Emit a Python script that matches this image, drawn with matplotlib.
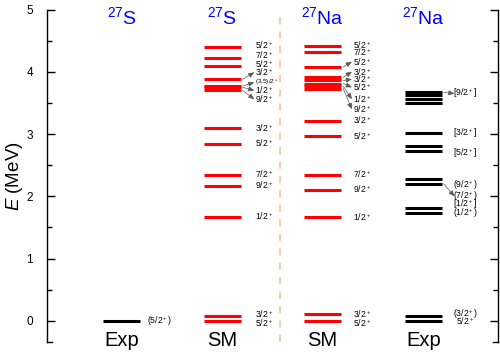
import matplotlib
matplotlib.use("Agg")
import matplotlib.pyplot as plt

plt.rcParams['font.family'] = ['Liberation Sans', 'DejaVu Sans']
plt.rcParams['mathtext.fontset'] = 'custom'
plt.rcParams['mathtext.rm'] = 'Liberation Sans'
plt.rcParams['mathtext.it'] = 'Liberation Sans:italic'
plt.rcParams['mathtext.bf'] = 'Liberation Sans:bold'

# ---------------- data ----------------
column_titles = [r'$^{27}$S', r'$^{27}$S', r'$^{27}$Na', r'$^{27}$Na']
column_names = ['Exp', 'SM', 'SM', 'Exp']

s27_exp_E = [0.0]
s27_exp_J = ['(5/2$^+$)']

s27_sm_E = [4.39, 4.22, 4.10, 3.88, 3.77, 3.75, 3.70, 3.09, 2.84, 2.35, 2.17, 1.67, 0.07, 0.0]
s27_sm_J = ['5/2$^+$', '7/2$^+$', '5/2$^+$', '3/2$^+$', '(3,5)/2$^+$', '1/2$^+$', '9/2$^+$',
            '3/2$^+$', '5/2$^+$', '7/2$^+$', '9/2$^+$', '1/2$^+$', '3/2$^+$', '5/2$^+$']

na27_sm_E = [4.42, 4.31, 4.08, 3.91, 3.86, 3.81, 3.77, 3.73, 3.21, 2.97, 2.35, 2.10, 1.66, 0.11, 0.0]
na27_sm_J = ['5/2$^+$', '7/2$^+$', '5/2$^+$', '3/2$^+$', '3/2$^+$', '5/2$^+$', '1/2$^+$', '9/2$^+$',
             '3/2$^+$', '5/2$^+$', '7/2$^+$', '9/2$^+$', '1/2$^+$', '3/2$^+$', '5/2$^+$']

na27_exp_E = [3.67, 3.62, 3.56, 3.50, 3.01, 2.80, 2.73, 2.27, 2.20, 1.81, 1.73, 0.085, 0.0]
na27_exp_J = ['[9/2$^+$]', '', '', '', '[3/2$^+$]', '', '[5/2$^+$]', '(9/2$^+$)', '(7/2$^+$)',
              '[1/2$^+$]', '(1/2$^+$)', '(3/2$^+$)', '5/2$^+$']

# ---------------- layout (label placement) ----------------
s27_exp_lab = [0.0]
s27_sm_lab = [4.42, 4.26, 4.13, 3.99, 3.83, 3.70, 3.56, 3.09, 2.85, 2.36, 2.18, 1.68, 0.11, -0.035]
s27_sm_arrow = [False, False, False, True, True, True, True, False, False, False, False, False, False, False]
na27_sm_lab = [4.43, 4.31, 4.16, 4.00, 3.88, 3.75, 3.56, 3.40, 3.22, 2.97, 2.36, 2.12, 1.66, 0.11, -0.035]
na27_sm_arrow = [False, False, True, True, True, True, True, True, False, False, False, False, False, False, False]
na27_exp_lab = [3.65, 0, 0, 0, 3.01, 0, 2.69, 2.18, 2.00, 1.87, 1.73, 0.115, -0.01]
na27_exp_arrow = [True, False, False, False, False, False, False, False, True, False, False, False, False]

RED = '#ff0000'
BLACK = '#000000'
BLUE = '#0000ff'
HALF = 0.184
LW = 2.2

fig = plt.figure(figsize=(5, 3.55), dpi=100)
ax = fig.add_axes([0.094, 0.0366, 0.902, 0.9366])
ax.set_xlim(-0.741, 3.743)
ax.set_ylim(-0.34, 5.0)


def draw_column(c, E, J, lab, arrows, color, label_x, ha='left', fs=6.2, arrow_target=None):
    ax.hlines(E, c - HALF, c + HALF, colors=color, lw=LW)
    for e, j, ly, arr in zip(E, J, lab, arrows):
        if not j:
            continue
        size = 4.6 if '(3,5)' in j else fs
        ax.text(label_x, ly, j, ha=ha, va='center', fontsize=size, color='black')
        if arr:
            tx = arrow_target if arrow_target is not None else label_x - 0.01
            ax.annotate('', xy=(tx, ly), xytext=(c + HALF + 0.02, e),
                        arrowprops=dict(arrowstyle='-|>,head_length=0.35,head_width=0.15',
                                        lw=0.5, color='0.35', shrinkA=0, shrinkB=0))


draw_column(0, s27_exp_E, s27_exp_J, s27_exp_lab, [False], BLACK, 0.255)
draw_column(1, s27_sm_E, s27_sm_J, s27_sm_lab, s27_sm_arrow, RED, 1.33)
draw_column(2, na27_sm_E, na27_sm_J, na27_sm_lab, na27_sm_arrow, RED, 2.30)
draw_column(3, na27_exp_E, na27_exp_J, na27_exp_lab, na27_exp_arrow, BLACK, 3.42,
            ha='center', arrow_target=3.31)

# titles and column names
for i, (t, n) in enumerate(zip(column_titles, column_names)):
    ax.text(i, 4.88, t, ha='center', va='center', fontsize=14, color=BLUE)
    ax.text(i, -0.31, n, ha='center', va='center', fontsize=14.5, color='black')

# dashed separator
ax.axvline(1.576, color='#f8c9a0', lw=1.3, dashes=(4, 4))

# axes styling
for s in ['top', 'bottom']:
    ax.spines[s].set_visible(False)
for s in ['left', 'right']:
    ax.spines[s].set_linewidth(1.0)
ax.set_yticks([0, 1, 2, 3, 4, 5])
ax.set_yticks([0.5, 1.5, 2.5, 3.5, 4.5], minor=True)
ax.set_xticks([])
ax.tick_params(axis='y', which='major', direction='in', length=5.5, width=1.0,
               right=True, labelsize=8.5, pad=10)
ax.tick_params(axis='y', which='minor', direction='in', length=3.5, width=1.0, right=True)
ax.set_ylabel(r'$\mathit{E}$ (MeV)', fontsize=13.5, labelpad=1)

# end caps at bottom of the spines
ax.plot([0, 0.012], [0, 0], transform=ax.transAxes, color='black', lw=1.0, clip_on=False)
ax.plot([0.988, 1.0], [0, 0], transform=ax.transAxes, color='black', lw=1.0, clip_on=False)

fig.savefig('out.png', dpi=100)
